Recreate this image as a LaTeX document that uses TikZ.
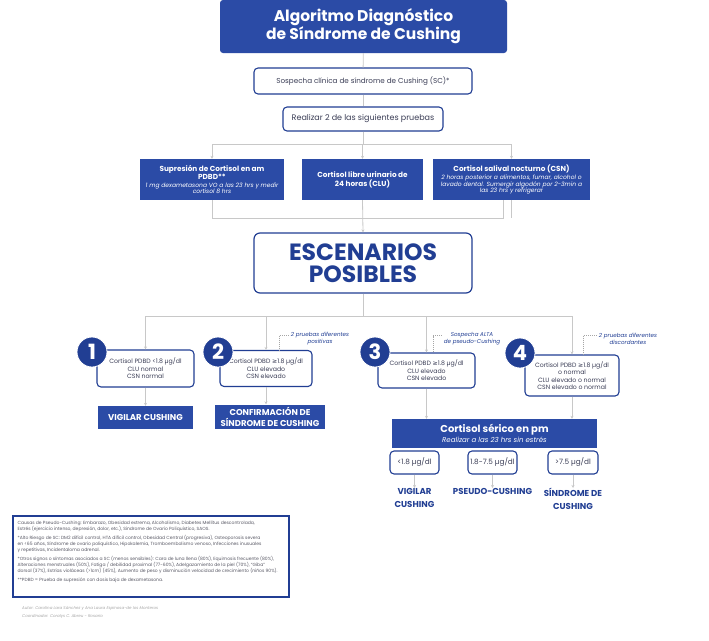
\documentclass[tikz,border=0pt]{standalone}
\usepackage{fontspec}
\setmainfont{Poppins}
\newfontfamily\symf{DejaVu Sans}
\usetikzlibrary{arrows.meta,calc}
\definecolor{cblue}{HTML}{2B4BA6}
\definecolor{cdark}{HTML}{213E93}
\definecolor{cline}{HTML}{C8C8C8}
\definecolor{ctext}{HTML}{3A3D55}
\definecolor{cfoot}{HTML}{5A5A66}
\newcommand{\gesym}{{\symf ≥}}
\newcommand{\tbf}{\fontsize{7.3}{7.5}\selectfont\upshape\bfseries}
\newcommand{\tit}{\fontsize{6}{6.3}\selectfont\mdseries\itshape}
\newcommand{\csbf}{\fontsize{10}{10}\selectfont\upshape\bfseries}
\newcommand{\csit}{\fontsize{7}{7}\selectfont\mdseries\itshape}
\begin{document}
\begin{tikzpicture}[x=1pt,y=-1pt,
  bluebox/.style={fill=cblue, text=white, inner sep=0pt, align=center},
  outbox/.style={draw=cdark, line width=1.1pt, fill=white, rounded corners=4pt, inner sep=0pt, align=center, text=ctext},
  ln/.style={draw=cline, line width=0.8pt},
  arr/.style={draw=cline, line width=0.8pt, -{Stealth[length=3pt,width=3pt]}},
  dotl/.style={draw=gray!70, line width=0.6pt, dash pattern=on 1pt off 1pt},
  note/.style={font=\fontsize{5.6}{7}\selectfont\itshape, text=cdark, align=center, inner sep=0pt},
  num/.style={circle, fill=cdark, draw=white, line width=0.8pt, minimum size=30pt, inner sep=0pt, text=white, font=\fontsize{21}{21}\selectfont\bfseries},
  outtxt/.style={text=cdark, font=\fontsize{8.6}{13}\selectfont\bfseries, align=center, inner sep=0pt},
  sctxt/.style={font=\fontsize{6.2}{7.5}\selectfont}
]
\useasboundingbox (0,0) rectangle (709,640);

% top
\node[bluebox, rounded corners=3pt, minimum width=287pt, minimum height=53pt, font=\fontsize{15.5}{15.5}\selectfont\bfseries] (title) at (363.5,26.5) {Algoritmo Diagnóstico\\de Síndrome de Cushing};
\node[outbox, minimum width=218pt, minimum height=26pt, font=\fontsize{7.2}{9}\selectfont] (sosp) at (363,81) {Sospecha clínica de síndrome de Cushing (SC)*};
\node[outbox, minimum width=160pt, minimum height=24pt, font=\fontsize{8}{9}\selectfont] (real) at (363,119) {Realizar 2 de las siguientes pruebas};
\draw[ln] (title) -- (sosp);
\draw[ln] (sosp) -- (real);

% tests
\node[bluebox, minimum width=144pt, minimum height=41pt, font=\tit] (t1) at (212,179.5) {\tbf Supresión de Cortisol en am\\\tbf PDBD**\\[1pt]\tit 1 mg dexametasona VO a las 23 hrs y medir\\\tit cortisol 8 hrs};
\node[bluebox, minimum width=121pt, minimum height=41pt, font=\tbf] (t2) at (362.5,179.5) {\tbf Cortisol libre urinario de\\[1.5pt]\tbf 24 horas (CLU)};
\node[bluebox, minimum width=157pt, minimum height=41pt, font=\tit] (t3) at (511.5,179.5) {\tbf Cortisol salival nocturno (CSN)\\[1.5pt]\tit 2 horas posterior a alimentos, fumar, alcohol o\\\tit lavado dental. Sumergir algodón por 2-3min a\\\tit las 23 hrs y refrigerar};

\coordinate (hb1) at (212,144);
\coordinate (hb2) at (511.5,144);
\draw[ln] (real.south) -- (real.south |- hb1);
\draw[ln] (hb1) -- (hb2);
\draw[arr] (hb1) -- (t1.north);
\draw[arr] (t2.north |- hb1) -- (t2.north);
\draw[arr] (hb2) -- (t3.north);

% escenarios
\node[outbox, line width=1.2pt, rounded corners=6pt, minimum width=218pt, minimum height=60pt, text=cdark, font=\fontsize{23.5}{22.5}\selectfont\bfseries] (esc) at (363,263) {ESCENARIOS\\POSIBLES};
\coordinate (lb1) at (212,218);
\coordinate (lb2) at (503,218);
\draw[ln] (t1.south) -- (lb1) -- (lb2) -- (lb2 |- t3.south);
\draw[ln] (t3.south) -- (t3.south |- lb2);
\draw[arr] (t2.south) -- (esc.north);

% scenarios
\node[outbox, sctxt, minimum width=97pt, minimum height=37pt] (s1) at (145.5,368.5) {Cortisol PDBD <1.8 µg/dl\\CLU normal\\CSN normal};
\node[outbox, sctxt, minimum width=92pt, minimum height=36pt] (s2) at (266,368.5) {Cortisol PDBD \gesym1.8 µg/dl\\CLU elevado\\CSN elevado};
\node[outbox, sctxt, minimum width=97pt, minimum height=35pt] (s3) at (426.5,370.5) {Cortisol PDBD \gesym1.8 µg/dl\\CLU elevado\\CSN elevado};
\node[outbox, sctxt, minimum width=94pt, minimum height=41pt] (s4) at (572,375.5) {Cortisol PDBD \gesym1.8 µg/dl\\o normal\\CLU elevado o normal\\CSN elevado o normal};

\coordinate (h1) at (145.5,316);
\coordinate (h2) at (572,316);
\draw[ln] (esc.south) -- (esc.south |- h1);
\draw[ln] (h1) -- (h2);
\draw[arr] (h1) -- (s1.north);
\draw[arr] (s2.north |- h1) -- (s2.north);
\draw[arr] (s3.north |- h1) -- (s3.north);
\draw[arr] (h2) -- (s4.north);

\node[num] (c1) at (92,352) {1};
\node[num] (c2) at (218,352) {2};
\node[num] (c3) at (375,352) {3};
\node[num] (c4) at (520,353) {4};

% notes
\node[note] (n2) at (320,339) {2 pruebas diferentes\\positivas};
\node[note] (n3) at (472,339) {Sospecha ALTA\\de pseudo-Cushing};
\node[note] (n4) at (628,339) {2 pruebas diferentes\\discordantes};
\coordinate (d2) at (279,335.5);
\coordinate (d3) at (433,335.5);
\coordinate (d4) at (583,335.5);
\draw[dotl] (n2.west |- d2) ++(-2,0) -- (d2) -- (d2 |- s2.north);
\draw[dotl] (n3.west |- d3) ++(-2,0) -- (d3) -- (d3 |- s3.north);
\draw[dotl] (n4.west |- d4) ++(-2,0) -- (d4) -- (d4 |- s4.north);

% outcomes left
\node[bluebox, minimum width=95pt, minimum height=23pt, font=\fontsize{8.5}{8.5}\selectfont\bfseries] (v1) at (145.5,417.5) {VIGILAR CUSHING};
\node[bluebox, minimum width=110pt, minimum height=24pt, font=\fontsize{8.5}{11}\selectfont\bfseries] (v2) at (270,416.5) {CONFIRMACIÓN DE\\SÍNDROME DE CUSHING};
\draw[arr] (s1.south) -- (s1.south |- v1.north);
\draw[arr] (s2.south) -- (s2.south |- v2.north);

% cortisol serico
\node[bluebox, minimum width=205pt, minimum height=29pt, font=\csit] (cs) at (494.5,433.5) {\csbf Cortisol sérico en pm\\[0.5pt]\csit Realizar a las 23 hrs sin estrés};
\draw[arr] (s3.south) -- (s3.south |- cs.north);
\draw[arr] (s4.south) -- (s4.south |- cs.north);

\node[outbox, font=\fontsize{7.3}{8}\selectfont, minimum width=49pt, minimum height=23pt] (b1) at (414.5,462.5) {<1.8 µg/dl};
\node[outbox, font=\fontsize{7.3}{8}\selectfont, minimum width=49pt, minimum height=23pt] (b2) at (492.5,462.5) {1.8-7.5 µg/dl};
\node[outbox, font=\fontsize{7.3}{8}\selectfont, minimum width=50pt, minimum height=23pt] (b3) at (573,462.5) {>7.5 µg/dl};

\node[outtxt, anchor=north] (o1) at (414.5,488) {VIGILAR\\CUSHING};
\node[outtxt, anchor=north] (o2) at (492.5,488) {PSEUDO-CUSHING};
\node[outtxt, anchor=north] (o3) at (573,488) {SÍNDROME DE\\CUSHING};
\draw[arr] (b1.south) -- (o1.north);
\draw[arr] (b2.south) -- (o2.north);
\draw[arr] (b3.south) -- (o3.north);

% footnotes
\node[draw=cdark, line width=1.2pt, fill=white, minimum width=276pt, minimum height=81pt, inner sep=0pt] (fn) at (151,556.5) {};
\node[anchor=north west, align=left, inner sep=0pt, text=cfoot, font=\fontsize{4.5}{6}\selectfont] (fntext) at ($(fn.north west)+(5,5)$) {Causas de Pseudo-Cushing: Embarazo, Obesidad extrema, Alcoholismo, Diabetes Mellitus descontrolada,\\Estrés (ejercicio intenso, depresión, dolor, etc.), Síndrome de Ovario Poliquístico, SAOS.\\[3pt]
*Alto Riesgo de SC: DM2 difícil control, HTA difícil control, Obesidad Central (progresiva), Osteoporosis severa\\en <65 años, Síndrome de ovario poliquístico, Hipokalemia, Tromboembolismo venoso, Infecciones inusuales\\y repetitivas, Incidentaloma adrenal.\\[3pt]
*Otros signos o síntomas asociados a SC (menos sensibles): Cara de luna llena (80\%), Equimosis frecuente (80\%),\\Alteraciones menstruales (50\%), Fatiga / debilidad proximal (77-60\%), Adelgazamiento de la piel (70\%), “Giba”\\dorsal (37\%), Estrías violáceas (>1cm) (45\%), Aumento de peso y disminución velocidad de crecimiento (niños 90\%).\\[3pt]
**PDBD = Prueba de supresión con dosis baja de dexametasona.};

\node[anchor=north west, align=left, inner sep=0pt, text=gray!70, font=\fontsize{4}{8}\selectfont\itshape] (auth) at (22,606) {Autor: Carolina Lara Sánchez y Ana Laura Espinosa-de los Monteros\\Coordinador: Coralys C. Abreu - Rosario};
\end{tikzpicture}
\end{document}
